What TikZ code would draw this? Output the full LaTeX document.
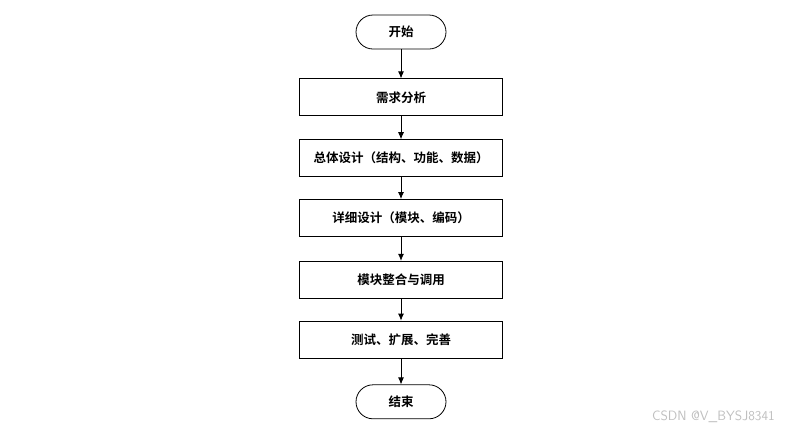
\documentclass[tikz,border=0pt]{standalone}
\usepackage{fontspec}
\newfontfamily\cjk{Noto Sans CJK SC Bold}
\usetikzlibrary{positioning,arrows.meta}

\tikzset{
    stepbox/.style={draw,line width=0.8pt,minimum width=203pt,minimum height=37pt,font=\cjk\fontsize{12.5}{14}\selectfont,inner sep=0pt},
    endbox/.style={draw,line width=0.8pt,rounded corners=17pt,minimum width=90pt,minimum height=34pt,font=\cjk\fontsize{12.5}{14}\selectfont,inner sep=0pt},
    flow/.style={-{Latex[length=7pt,width=6pt]},line width=0.8pt}
}

\begin{document}
\begin{tikzpicture}[x=1pt,y=-1pt]

    % page frame, as in the reference
    \useasboundingbox (0,0) rectangle (786,432);

    \node[endbox] (start) at (401,32) {开始};
    \node[stepbox,below=29pt of start] (need) {需求分析};
    \node[stepbox,below=23pt of need] (overall) {总体设计（结构、功能、数据）};
    \node[stepbox,below=22pt of overall] (detail) {详细设计（模块、编码）};
    \node[stepbox,below=24pt of detail] (merge) {模块整合与调用};
    \node[stepbox,below=22pt of merge] (test) {测试、扩展、完善};
    \node[endbox,below=26pt of test] (stop) {结束};

    \draw[flow] (start) -- (need);
    \draw[flow] (need) -- (overall);
    \draw[flow] (overall) -- (detail);
    \draw[flow] (detail) -- (merge);
    \draw[flow] (merge) -- (test);
    \draw[flow] (test) -- (stop);

    % watermark
    \node[text=black!25,font=\fontsize{13.5}{15}\selectfont\sffamily,anchor=east,inner sep=0pt] (mark) at (775,417) {CSDN @V\_BYSJ8341};

\end{tikzpicture}
\end{document}
